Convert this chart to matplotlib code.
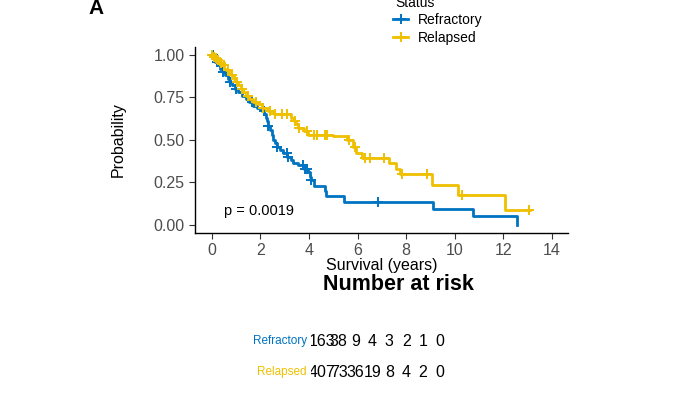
import numpy as np
import matplotlib
matplotlib.use('Agg')
import matplotlib.pyplot as plt
from matplotlib.lines import Line2D

plt.rcParams['font.family'] = ['Liberation Sans', 'DejaVu Sans']

blue = '#0073C2'
yellow = '#EFC000'

# Kaplan-Meier steps (time in years, survival after step)
refr_t = [0.00, 0.08, 0.15, 0.25, 0.35, 0.45, 0.55, 0.65, 0.75, 0.85, 0.95, 1.10, 1.25,
          1.40, 1.55, 1.70, 1.85, 2.05, 2.15, 2.22, 2.28, 2.33, 2.40, 2.47, 2.52, 2.60,
          2.68, 2.80, 2.95, 3.10, 3.25, 3.35, 3.55, 3.80, 3.95, 4.05, 4.10, 4.20, 4.65,
          4.70, 5.45, 9.12, 10.75, 12.55]
refr_s = [1.00, 0.98, 0.96, 0.94, 0.92, 0.90, 0.88, 0.86, 0.84, 0.82, 0.80, 0.78, 0.76,
          0.74, 0.72, 0.70, 0.69, 0.67, 0.65, 0.63, 0.61, 0.58, 0.56, 0.53, 0.50, 0.48,
          0.46, 0.44, 0.42, 0.40, 0.38, 0.36, 0.35, 0.33, 0.31, 0.28, 0.26, 0.23, 0.20,
          0.17, 0.13, 0.09, 0.05, 0.00]
refr_cens = [0.05, 0.2, 0.48, 0.75, 1.0, 1.65, 2.13, 2.33, 2.68, 3.09, 3.15, 3.77, 3.84,
             3.91, 4.1, 6.86]

rel_t = [0.00, 0.05, 0.12, 0.20, 0.28, 0.36, 0.44, 0.52, 0.60, 0.70, 0.80, 0.90, 1.00,
         1.10, 1.20, 1.30, 1.42, 1.55, 1.70, 1.90, 2.05, 2.30, 2.55, 3.25, 3.40, 3.45,
         3.55, 3.80, 3.98, 5.00, 5.55, 5.80, 5.95, 6.20, 7.30, 7.60, 7.75, 9.06, 10.12,
         12.08, 13.11]
rel_s = [1.00, 0.99, 0.98, 0.97, 0.96, 0.95, 0.94, 0.92, 0.91, 0.89, 0.88, 0.86, 0.84,
         0.82, 0.80, 0.78, 0.76, 0.74, 0.72, 0.71, 0.69, 0.67, 0.65, 0.63, 0.61, 0.59,
         0.57, 0.55, 0.53, 0.52, 0.50, 0.46, 0.42, 0.39, 0.36, 0.33, 0.30, 0.235, 0.176,
         0.088, 0.088]
rel_cens = [0.03, 0.1, 0.17, 0.25, 0.4, 0.5, 0.65, 0.85, 1.05, 1.25, 1.5, 1.8, 2.1, 2.4,
            2.61, 2.88, 3.09, 3.43, 3.57, 3.9, 4.19, 4.33, 4.66, 4.73, 5.63, 5.9, 6.32,
            6.53, 7.08, 7.83, 8.85, 10.3, 13.04]

risk_times = [0, 2, 4, 6, 8, 10, 12, 14]
risk_refr = [163, 38, 9, 4, 3, 2, 1, 0]
risk_rel = [407, 73, 36, 19, 8, 4, 2, 0]


def surv_at(ts, ss, x):
    idx = np.searchsorted(ts, x, side='right') - 1
    return np.array(ss)[idx]


fig = plt.figure(figsize=(6.81, 3.93), dpi=100)
ax = fig.add_axes([195 / 681, 1 - 233 / 393, 373 / 681, 186.5 / 393])

for ts, ss, cens, col in [(refr_t, refr_s, refr_cens, blue), (rel_t, rel_s, rel_cens, yellow)]:
    ax.step(ts, ss, where='post', color=col, lw=2.0)
    ax.plot(cens, surv_at(ts, ss, cens), ls='none', marker='+', ms=7, mew=1.4, color=col)

ax.set_xlim(-0.69, 14.66)
ax.set_ylim(-0.05, 1.05)
ax.set_xticks(range(0, 15, 2))
ax.set_yticks([0, 0.25, 0.5, 0.75, 1.0])
ax.set_yticklabels(['0.00', '0.25', '0.50', '0.75', '1.00'])
ax.tick_params(colors='#333333', labelsize=11.5, length=4, width=0.8, labelcolor='#4D4D4D')
for s in ['top', 'right']:
    ax.spines[s].set_visible(False)
for s in ['left', 'bottom']:
    ax.spines[s].set_linewidth(1.0)
ax.set_xlabel('Survival (years)', fontsize=11.5, labelpad=0)
ax.set_ylabel('Probability', fontsize=11.5, labelpad=20)
ax.text(0.5, 0.08, 'p = 0.0019', fontsize=10.5, va='center')

fig.text(88 / 681, 1 - 9 / 393, 'A', fontsize=15, fontweight='bold', va='center')
fig.text(395 / 681, 1 - 3 / 393, 'Status', fontsize=10, va='center')
handles = [Line2D([], [], color=blue, marker='+', lw=2, ms=7, mew=1.4),
           Line2D([], [], color=yellow, marker='+', lw=2, ms=7, mew=1.4)]
fig.legend(handles, ['Refractory', 'Relapsed'], loc='upper left', frameon=False,
           bbox_to_anchor=(393 / 681, 1 - 13 / 393), fontsize=10, handlelength=1.1,
           handletextpad=0.7, labelspacing=0.3, borderpad=0, borderaxespad=0)

fig.text(398 / 681, 1 - 285 / 393, 'Number at risk', fontsize=15.5, fontweight='bold',
         ha='center', va='center')

axt = fig.add_axes([311 / 681, 1 - 388 / 393, 134 / 681, 62 / 393])
axt.set_xlim(-1.3, 14.6)
axt.set_ylim(0, 2)
axt.axis('off')
for row_y, vals in [(1.5, risk_refr), (0.5, risk_rel)]:
    for t, v in zip(risk_times, vals):
        axt.text(t, row_y, str(v), ha='center', va='center', fontsize=11.5, clip_on=True)
fig.text(307 / 681, 1 - 341 / 393, 'Refractory', color=blue, fontsize=8.5, ha='right', va='center')
fig.text(307 / 681, 1 - 372 / 393, 'Relapsed', color=yellow, fontsize=8.5, ha='right', va='center')

fig.savefig('out.png', dpi=100)
